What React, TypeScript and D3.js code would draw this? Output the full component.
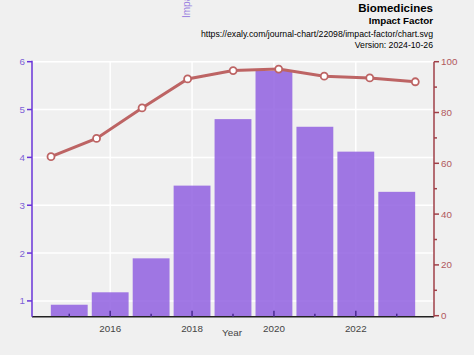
import React from "react";
import * as d3 from "d3";

const years = [2015, 2016, 2017, 2018, 2019, 2020, 2021, 2022, 2023];
const impactFactor = [0.92, 1.18, 1.89, 3.41, 4.8, 5.81, 4.64, 4.12, 3.28];
const percentile = [62.6, 69.8, 81.8, 93.2, 96.5, 97.1, 94.3, 93.6, 92.1];
const leftTicks = [1, 2, 3, 4, 5, 6];
const rightTicks = [0, 20, 40, 60, 80, 100];
const rightMinor = [10, 30, 50, 70, 90];
const xMajor = [2016, 2018, 2020, 2022];

const W = 474, H = 355;
const L = 32, R = 434, T = 61.7, B = 316.7;
const FONT = "'Liberation Sans', Arial, sans-serif";

export default function App() {
  const x = d3.scaleLinear().domain([2014.09, 2023.91]).range([L, R]);
  const xLine = d3.scaleLinear().domain([2015, 2023]).range([51, 415.3]);
  const yL = d3.scaleLinear().domain([0.67, 6]).range([B, T]);
  const yR = d3.scaleLinear().domain([0, 100]).range([B - 1, T]);
  const step = x(2016) - x(2015);
  const bw = step * 0.9;
  const line = d3
    .line<number>()
    .x((_, i) => xLine(years[i]))
    .y((d) => yR(d));
  const leftColor = "#6a35d9";
  const leftText = "#7e62d6";
  const rightColor = "#a04048";
  const rightText = "#b0585c";
  const lineColor = "#bd6464";

  return (
    <svg
      width={W}
      height={H}
      style={{ position: "absolute", left: 0, top: 0, display: "block" }}
      fontFamily={FONT}
    >
      <rect x={0} y={0} width={W} height={H} fill="#f0f0f0" />
      {leftTicks.map((t) => (
        <line key={"gh" + t} x1={L} x2={R} y1={yL(t)} y2={yL(t)} stroke="#ffffff" strokeWidth={1.5} />
      ))}
      {xMajor.map((t) => (
        <line key={"gv" + t} x1={x(t)} x2={x(t)} y1={T} y2={B} stroke="#ffffff" strokeWidth={1.5} />
      ))}
      {years.map((yr, i) => (
        <rect
          key={"b" + yr}
          x={x(yr) - bw / 2}
          y={yL(impactFactor[i])}
          width={bw}
          height={B - yL(impactFactor[i])}
          fill="#9060e0"
          fillOpacity={0.85}
        />
      ))}
      <line x1={L} x2={R} y1={B} y2={B} stroke="#222" strokeWidth={1.5} />
      {years.map((yr) => (
        <line
          key={"xt" + yr}
          x1={x(yr)}
          x2={x(yr)}
          y1={B}
          y2={B - (yr % 2 === 0 ? 6 : 3)}
          stroke="#4a2a90"
          strokeWidth={1.5}
        />
      ))}
      {xMajor.map((t) => (
        <text key={"xl" + t} x={x(t)} y={332} textAnchor="middle" fontSize={9.8} fill="#444">
          {t}
        </text>
      ))}
      <text x={232} y={336} textAnchor="middle" fontSize={9.8} fill="#444">
        Year
      </text>
      <line x1={L} x2={L} y1={T - 1} y2={B} stroke={leftColor} strokeWidth={1.5} />
      {leftTicks.map((t) => (
        <g key={"lt" + t}>
          <line x1={L - 5} x2={L} y1={yL(t)} y2={yL(t)} stroke={leftColor} strokeWidth={1.5} />
          <text x={L - 7} y={yL(t) + 3.5} textAnchor="end" fontSize={9.8} fill={leftText}>
            {t}
          </text>
        </g>
      ))}
      <text
        transform={`translate(190,18) rotate(-90)`}
        textAnchor="start"
        fontSize={10}
        fill="#9a80e0"
      >
        Impact Factor
      </text>
      <line x1={R} x2={R} y1={T} y2={B} stroke={rightColor} strokeWidth={1.5} />
      {rightTicks.map((t) => (
        <g key={"rt" + t}>
          <line x1={R} x2={R + 5} y1={yR(t)} y2={yR(t)} stroke={rightColor} strokeWidth={1.5} />
          <text x={R + 7} y={yR(t) + 3.5} textAnchor="start" fontSize={9.8} fill={rightText}>
            {t}
          </text>
        </g>
      ))}
      {rightMinor.map((t) => (
        <line key={"rm" + t} x1={R} x2={R + 3} y1={yR(t)} y2={yR(t)} stroke={rightColor} strokeWidth={1.5} />
      ))}
      <path d={line(percentile) || ""} fill="none" stroke={lineColor} strokeWidth={3} />
      {percentile.map((p, i) => (
        <circle
          key={"c" + i}
          cx={xLine(years[i])}
          cy={yR(p)}
          r={3.5}
          fill="#ffffff"
          stroke={lineColor}
          strokeWidth={1.8}
        />
      ))}
      <text x={433} y={12} textAnchor="end" fontSize={11.5} fontWeight="bold" fill="#000">
        Biomedicines
      </text>
      <text x={433} y={24} textAnchor="end" fontSize={9.8} fontWeight="bold" fill="#000">
        Impact Factor
      </text>
      <text x={433} y={37} textAnchor="end" fontSize={8.7} fill="#000">
        https://exaly.com/journal-chart/22098/impact-factor/chart.svg
      </text>
      <text x={433} y={48} textAnchor="end" fontSize={8.7} fill="#000">
        Version: 2024-10-26
      </text>
    </svg>
  );
}
